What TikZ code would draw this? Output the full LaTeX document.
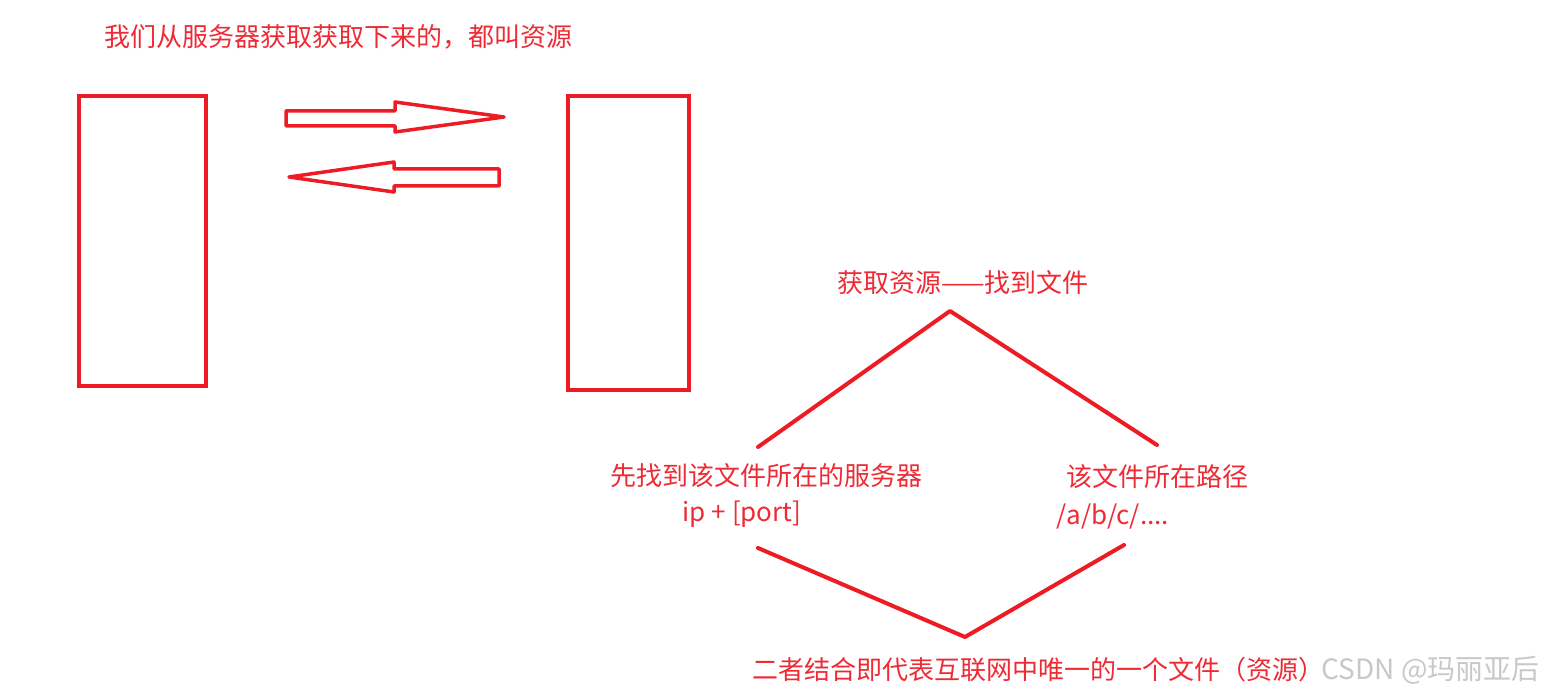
\documentclass[tikz,border=0pt]{standalone}
\usepackage{fontspec}
\newfontfamily\cjk{Noto Sans CJK SC}
\definecolor{pred}{HTML}{ED1C24}
\definecolor{tred}{HTML}{EE2B35}
\definecolor{wm}{HTML}{C8C8C8}
\begin{document}
\begin{tikzpicture}[x=1pt,y=-1pt,
  box/.style={draw=pred,line width=4pt},
  stroke/.style={draw=pred,line width=4pt,line cap=round,line join=round},
  lbl/.style={inner sep=0pt,text=tred,font=\cjk\fontsize{26}{30}\selectfont},
  wmark/.style={inner sep=0pt,text=wm,font=\cjk\fontsize{28}{32}\selectfont}]
\useasboundingbox (0,0) rectangle (1543,700);
% title
\node[lbl,anchor=west] (title) at (104,37) {我们从服务器获取获取下来的，都叫资源};
% boxes
\draw[box] (79,96) rectangle (206,386);
\draw[box] (568,96) rectangle (689,390);
% right arrow
\draw[stroke,line width=3.5pt] (286,111) -- (395,111) -- (395,102) -- (504,117) -- (395,132) -- (395,126) -- (286,126) -- cycle;
% left arrow
\draw[stroke,line width=3.5pt] (499,169) -- (394,169) -- (394,162) -- (289,177) -- (394,192) -- (394,186) -- (499,186) -- cycle;
% upper texts
\node[lbl] (res) at (963,283) {获取资源——找到文件};
\coordinate (apex) at (950,311);
\coordinate (lend) at (758,447);
\coordinate (rend) at (1157,445);
\draw[stroke] (lend) -- (apex) -- (rend);
\node[lbl] (srv) at (766,476) {先找到该文件所在的服务器};
\node[lbl] (ip) at (742,514) {ip + [port]};
\node[lbl] (path) at (1157,477) {该文件所在路径};
\node[lbl] (pp) at (1113,516) {/a/b/c/....};
% lower V
\coordinate (l2) at (758,548);
\coordinate (bot) at (965,637);
\coordinate (r2) at (1124,545);
\draw[stroke] (l2) -- (bot) -- (r2);
\node[lbl,anchor=west] (comb) at (752,670) {二者结合即代表互联网中唯一的一个文件（资源）};
\node[wmark,anchor=east] (wmk) at (1540,670) {CSDN @玛丽亚后};
\end{tikzpicture}
\end{document}
